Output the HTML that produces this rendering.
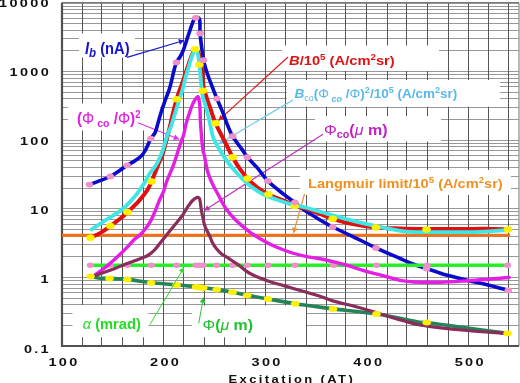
<!DOCTYPE html>
<html><head><meta charset="utf-8"><style>
html,body{margin:0;padding:0;background:#fff;overflow:hidden;width:520px;height:383px;}
svg{display:block;}
</style></head><body>
<svg width="520" height="383" viewBox="0 0 520 383">
<rect width="520" height="383" fill="#fff"/>
<g stroke="#989898" stroke-width="1"><line x1="62" y1="346.50" x2="519" y2="346.50"/><line x1="62" y1="325.50" x2="519" y2="325.50"/><line x1="62" y1="313.50" x2="519" y2="313.50"/><line x1="62" y1="304.50" x2="519" y2="304.50"/><line x1="62" y1="298.50" x2="519" y2="298.50"/><line x1="62" y1="292.50" x2="519" y2="292.50"/><line x1="62" y1="288.50" x2="519" y2="288.50"/><line x1="62" y1="284.50" x2="519" y2="284.50"/><line x1="62" y1="280.50" x2="519" y2="280.50"/><line x1="62" y1="277.50" x2="519" y2="277.50"/><line x1="62" y1="256.50" x2="519" y2="256.50"/><line x1="62" y1="244.50" x2="519" y2="244.50"/><line x1="62" y1="236.50" x2="519" y2="236.50"/><line x1="62" y1="229.50" x2="519" y2="229.50"/><line x1="62" y1="224.50" x2="519" y2="224.50"/><line x1="62" y1="219.50" x2="519" y2="219.50"/><line x1="62" y1="215.50" x2="519" y2="215.50"/><line x1="62" y1="211.50" x2="519" y2="211.50"/><line x1="62" y1="208.50" x2="519" y2="208.50"/><line x1="62" y1="188.50" x2="519" y2="188.50"/><line x1="62" y1="176.50" x2="519" y2="176.50"/><line x1="62" y1="167.50" x2="519" y2="167.50"/><line x1="62" y1="160.50" x2="519" y2="160.50"/><line x1="62" y1="155.50" x2="519" y2="155.50"/><line x1="62" y1="150.50" x2="519" y2="150.50"/><line x1="62" y1="146.50" x2="519" y2="146.50"/><line x1="62" y1="143.50" x2="519" y2="143.50"/><line x1="62" y1="140.50" x2="519" y2="140.50"/><line x1="62" y1="119.50" x2="519" y2="119.50"/><line x1="62" y1="107.50" x2="519" y2="107.50"/><line x1="62" y1="98.50" x2="519" y2="98.50"/><line x1="62" y1="92.50" x2="519" y2="92.50"/><line x1="62" y1="86.50" x2="519" y2="86.50"/><line x1="62" y1="82.50" x2="519" y2="82.50"/><line x1="62" y1="78.50" x2="519" y2="78.50"/><line x1="62" y1="74.50" x2="519" y2="74.50"/><line x1="62" y1="71.50" x2="519" y2="71.50"/><line x1="62" y1="50.50" x2="519" y2="50.50"/><line x1="62" y1="38.50" x2="519" y2="38.50"/><line x1="62" y1="30.50" x2="519" y2="30.50"/><line x1="62" y1="23.50" x2="519" y2="23.50"/><line x1="62" y1="18.50" x2="519" y2="18.50"/><line x1="62" y1="13.50" x2="519" y2="13.50"/><line x1="62" y1="9.50" x2="519" y2="9.50"/><line x1="62" y1="6.50" x2="519" y2="6.50"/><line x1="62" y1="2.50" x2="519" y2="2.50"/></g>
<g stroke="#555555" stroke-width="1"><line x1="82.50" y1="3" x2="82.50" y2="346"/><line x1="101.50" y1="3" x2="101.50" y2="346"/><line x1="122.50" y1="3" x2="122.50" y2="346"/><line x1="143.50" y1="3" x2="143.50" y2="346"/><line x1="163.50" y1="3" x2="163.50" y2="346"/><line x1="183.50" y1="3" x2="183.50" y2="346"/><line x1="204.50" y1="3" x2="204.50" y2="346"/><line x1="224.50" y1="3" x2="224.50" y2="346"/><line x1="245.50" y1="3" x2="245.50" y2="346"/><line x1="265.50" y1="3" x2="265.50" y2="346"/><line x1="285.50" y1="3" x2="285.50" y2="346"/><line x1="306.50" y1="3" x2="306.50" y2="346"/><line x1="326.50" y1="3" x2="326.50" y2="346"/><line x1="345.50" y1="3" x2="345.50" y2="346"/><line x1="366.50" y1="3" x2="366.50" y2="346"/><line x1="387.50" y1="3" x2="387.50" y2="346"/><line x1="406.50" y1="3" x2="406.50" y2="346"/><line x1="427.50" y1="3" x2="427.50" y2="346"/><line x1="448.50" y1="3" x2="448.50" y2="346"/><line x1="468.50" y1="3" x2="468.50" y2="346"/><line x1="488.50" y1="3" x2="488.50" y2="346"/><line x1="508.50" y1="3" x2="508.50" y2="346"/></g>
<line x1="519" y1="3" x2="519" y2="346" stroke="#8c8c8c" stroke-width="1.2"/>
<line x1="62" y1="2.5" x2="62" y2="347" stroke="#505050" stroke-width="2.2"/>
<line x1="61" y1="346" x2="519" y2="346" stroke="#505050" stroke-width="2"/>
<line x1="62" y1="3" x2="519" y2="3" stroke="#707070" stroke-width="1.4"/>
<rect x="79" y="33.5" width="56" height="24.0" fill="#fff"/>
<rect x="282" y="45.5" width="157" height="25.5" fill="#fff"/>
<rect x="287" y="80" width="213" height="26.799999999999997" fill="#fff"/>
<rect x="68" y="103.5" width="92" height="27.0" fill="#fff"/>
<rect x="315" y="116" width="126" height="25.5" fill="#fff"/>
<rect x="300" y="170" width="211" height="25" fill="#fff"/>
<rect x="72.5" y="305" width="76.0" height="32.30000000000001" fill="#fff"/>
<rect x="192" y="305.5" width="114" height="31.80000000000001" fill="#fff"/>
<line x1="62" y1="235.3" x2="510" y2="235.3" stroke="#f27018" stroke-width="3"/>
<line x1="127" y1="57.3" x2="184" y2="40.5" stroke="#1a1ad0" stroke-width="1.2"/><polygon points="184,40.5 179.9,44.8 178.2,39.1" fill="#1a1ad0"/>
<line x1="288" y1="57" x2="218.5" y2="120.5" stroke="#e02020" stroke-width="1.2"/><polygon points="218.5,120.5 220.3,114.8 224.4,119.2" fill="#e02020"/>
<line x1="293" y1="100" x2="218.5" y2="144" stroke="#6cc8ee" stroke-width="1.2"/><polygon points="218.5,144 221.4,138.8 224.5,143.9" fill="#6cc8ee"/>
<line x1="138" y1="122.8" x2="179" y2="139.2" stroke="#e030e0" stroke-width="1.2"/><polygon points="179,139.2 173.1,140.1 175.3,134.5" fill="#e030e0"/>
<line x1="323" y1="134.2" x2="204.3" y2="210.5" stroke="#c030c0" stroke-width="1.2"/><polygon points="204.3,210.5 207.0,205.2 210.3,210.2" fill="#c030c0"/>
<line x1="304.5" y1="194" x2="293.5" y2="233" stroke="#f09030" stroke-width="1.2"/><polygon points="293.5,233 292.0,227.2 297.8,228.8" fill="#f09030"/>
<path d="M89.4,184.6 C91.3,183.9 97.4,181.8 100.9,180.4 C104.4,179.1 107.5,177.9 110.3,176.5 C113.1,175.1 115.0,173.5 117.8,171.7 C120.6,169.8 124.3,167.2 127.2,165.4 C130.1,163.6 132.7,162.3 135.0,160.7 C137.3,159.1 139.6,157.8 141.3,156.0 C143.1,154.2 143.9,152.9 145.5,150.0 C147.1,147.1 149.2,141.4 150.8,138.6 C152.4,135.8 153.8,135.4 155.0,132.9 C156.2,130.4 156.7,127.5 157.8,123.8 C158.9,120.1 160.2,115.0 161.5,111.0 C162.8,107.0 164.0,103.8 165.3,100.0 C166.7,96.2 168.2,92.8 169.6,88.2 C171.0,83.6 172.4,76.8 173.5,72.5 C174.6,68.2 175.3,65.0 176.4,62.4 C177.5,59.8 178.9,58.9 180.0,57.0 C181.1,55.1 182.0,53.4 183.1,50.8 C184.2,48.2 185.2,44.4 186.3,41.3 C187.4,38.2 188.2,35.4 189.4,32.0 C190.6,28.6 192.2,23.4 193.3,21.0 C194.4,18.6 194.6,18.1 195.7,17.8 C196.8,17.5 198.9,16.8 199.6,19.4 C200.3,22.0 199.7,28.5 200.1,33.5 C200.5,38.5 201.3,44.8 201.9,49.2 C202.5,53.7 202.6,56.0 203.5,60.2 C204.4,64.4 206.1,70.0 207.6,74.5 C209.1,79.0 210.8,83.0 212.3,87.0 C213.9,91.0 215.1,94.2 216.9,98.6 C218.7,103.0 221.4,108.9 223.2,113.5 C225.0,118.1 226.3,122.2 227.9,126.0 C229.5,129.8 230.2,132.3 232.6,136.2 C234.9,140.1 239.5,145.9 242.0,149.4 C244.5,152.9 244.8,154.1 247.4,157.2 C250.0,160.3 254.2,164.2 257.6,168.2 C261.0,172.2 263.4,176.6 267.8,181.0 C272.2,185.4 279.3,190.8 283.8,194.4 C288.3,198.0 292.0,200.1 294.8,202.3 C297.6,204.5 297.2,205.1 300.6,207.5 C304.0,209.9 309.6,213.6 315.0,216.8 C320.4,220.1 325.3,223.2 332.7,227.0 C340.1,230.8 352.0,236.1 359.2,239.6 C366.4,243.1 369.2,244.8 376.0,247.9 C382.8,251.1 393.8,255.8 400.0,258.5 C406.2,261.2 408.6,262.3 413.0,264.0 C417.4,265.7 422.6,267.3 426.5,268.6 C430.4,269.9 432.6,270.6 436.3,271.8 C440.0,273.0 443.2,274.2 448.5,275.6 C453.8,277.1 461.1,278.9 468.0,280.5 C474.9,282.1 483.3,283.8 490.0,285.4 C496.7,287.0 505.2,289.6 508.3,290.4" fill="none" stroke="#0a0acd" stroke-width="3.6" stroke-linejoin="round" stroke-linecap="round"/>
<line x1="90" y1="265.3" x2="508" y2="265.3" stroke="#28ee28" stroke-width="3.6"/>
<ellipse cx="90.3" cy="265.3" rx="3.5" ry="2.7" fill="#f090c8"/>
<ellipse cx="110.0" cy="265.3" rx="3.5" ry="2.7" fill="#f090c8"/>
<ellipse cx="127.3" cy="265.3" rx="3.5" ry="2.7" fill="#f090c8"/>
<ellipse cx="151.3" cy="265.3" rx="3.5" ry="2.7" fill="#f090c8"/>
<ellipse cx="176.6" cy="265.3" rx="3.5" ry="2.7" fill="#f090c8"/>
<ellipse cx="196.0" cy="265.3" rx="3.5" ry="2.7" fill="#f090c8"/>
<ellipse cx="199.6" cy="265.3" rx="3.5" ry="2.7" fill="#f090c8"/>
<ellipse cx="203.2" cy="265.3" rx="3.5" ry="2.7" fill="#f090c8"/>
<ellipse cx="216.6" cy="265.3" rx="3.5" ry="2.7" fill="#f090c8"/>
<ellipse cx="232.6" cy="265.3" rx="3.5" ry="2.7" fill="#f090c8"/>
<ellipse cx="247.3" cy="265.3" rx="3.5" ry="2.7" fill="#f090c8"/>
<ellipse cx="268.0" cy="265.3" rx="3.5" ry="2.7" fill="#f090c8"/>
<ellipse cx="295.0" cy="265.3" rx="3.5" ry="2.7" fill="#f090c8"/>
<ellipse cx="333.5" cy="265.3" rx="3.5" ry="2.7" fill="#f090c8"/>
<ellipse cx="376.5" cy="265.3" rx="3.5" ry="2.7" fill="#f090c8"/>
<ellipse cx="427.2" cy="265.3" rx="3.5" ry="2.7" fill="#f090c8"/>
<ellipse cx="507.6" cy="265.3" rx="3.5" ry="2.7" fill="#f090c8"/>
<path d="M90.5,276.4 C92.1,276.7 96.8,277.8 100.0,278.2 C103.2,278.6 105.0,278.3 109.5,278.5 C114.0,278.7 120.4,278.7 127.3,279.4 C134.2,280.1 142.9,281.9 151.1,282.8 C159.3,283.7 168.7,284.0 176.6,284.7 C184.5,285.4 191.8,286.4 198.5,287.2 C205.2,288.0 210.8,288.6 216.5,289.4 C222.2,290.2 227.4,291.2 232.5,292.2 C237.6,293.2 241.2,294.2 247.1,295.3 C253.0,296.4 260.0,297.6 268.0,299.0 C276.0,300.4 288.2,302.6 295.2,303.7 C302.2,304.8 303.7,304.9 310.0,305.8 C316.3,306.7 321.9,307.5 333.0,308.9 C344.1,310.3 362.0,311.8 376.5,314.0 C391.0,316.2 411.6,320.9 420.0,322.3 C428.4,323.7 418.9,321.6 426.7,322.5 C434.5,323.4 453.5,326.2 467.0,328.0 C480.5,329.8 500.8,332.5 507.6,333.4" fill="none" stroke="#248458" stroke-width="3.6" stroke-linejoin="round" stroke-linecap="round"/>
<path d="M90.4,237.8 C92.2,236.9 97.6,234.6 100.9,232.6 C104.2,230.6 107.2,228.3 110.3,226.0 C113.4,223.7 116.8,221.3 119.7,219.0 C122.6,216.7 124.5,215.1 127.6,212.2 C130.7,209.2 135.3,204.9 138.5,201.3 C141.7,197.8 144.6,194.2 146.8,190.9 C149.0,187.6 150.2,184.7 151.6,181.5 C153.0,178.3 154.2,174.9 155.4,172.0 C156.6,169.1 157.3,166.9 158.5,164.0 C159.7,161.1 161.0,159.1 162.4,154.8 C163.8,150.5 165.7,143.0 166.9,138.4 C168.1,133.8 168.9,130.9 169.8,127.0 C170.8,123.1 171.5,119.4 172.6,114.8 C173.7,110.2 175.2,103.9 176.6,99.2 C178.0,94.5 179.8,90.0 181.0,86.6 C182.2,83.2 182.5,82.2 183.7,78.8 C184.9,75.4 186.7,69.8 188.0,66.0 C189.3,62.2 190.3,58.8 191.5,56.0 C192.7,53.2 193.9,49.6 195.2,49.3 C196.4,49.0 198.0,51.5 199.0,54.0 C200.0,56.5 200.7,61.1 201.3,64.6 C201.9,68.1 202.2,71.1 202.6,75.0 C203.0,78.9 203.1,84.7 203.6,88.0 C204.1,91.3 204.6,91.3 205.8,95.0 C207.0,98.7 209.4,105.7 211.0,110.4 C212.6,115.1 213.6,118.8 215.5,123.2 C217.4,127.6 220.5,133.2 222.4,137.0 C224.3,140.8 225.3,142.6 227.0,146.0 C228.7,149.4 230.4,153.2 232.6,157.2 C234.8,161.1 237.9,166.1 240.4,169.7 C242.9,173.2 244.8,175.5 247.6,178.5 C250.4,181.5 253.9,184.9 257.4,187.5 C260.9,190.1 264.0,192.0 268.4,194.2 C272.8,196.4 279.4,198.8 283.8,200.7 C288.2,202.6 291.0,204.1 294.6,205.4 C298.2,206.7 301.5,207.1 305.7,208.5 C309.9,209.9 315.5,212.3 320.0,214.0 C324.5,215.7 327.7,217.2 332.7,218.8 C337.7,220.4 342.8,222.1 350.0,223.5 C357.2,224.9 367.6,226.6 375.9,227.4 C384.2,228.2 391.6,228.2 400.0,228.5 C408.4,228.8 416.5,228.9 426.5,229.0 C436.5,229.1 450.2,229.0 460.0,229.0 C469.8,229.0 477.0,228.7 485.0,228.8 C493.0,228.9 504.2,229.4 508.0,229.5" fill="none" stroke="#e01010" stroke-width="4" stroke-linejoin="round" stroke-linecap="round"/>
<path d="M91.5,229.5 C93.8,228.0 100.0,223.8 105.0,220.5 C110.0,217.2 116.9,213.6 121.8,209.7 C126.7,205.8 130.5,201.6 134.3,197.1 C138.1,192.6 142.1,186.5 144.7,182.5 C147.3,178.5 148.4,175.4 150.0,173.0 C151.6,170.6 152.7,169.8 154.0,168.0 C155.3,166.2 156.4,164.8 157.8,162.0 C159.2,159.2 160.9,155.4 162.4,151.2 C163.9,147.0 165.5,140.8 166.9,136.6 C168.3,132.4 169.8,129.7 171.0,126.3 C172.2,122.9 173.1,119.7 174.2,116.0 C175.3,112.3 176.8,107.6 177.8,104.4 C178.8,101.2 179.3,99.2 180.0,97.0 C180.7,94.8 181.2,94.3 182.1,91.3 C183.0,88.3 184.1,82.7 185.2,78.8 C186.2,74.9 187.3,71.3 188.4,67.8 C189.5,64.2 190.4,60.6 191.5,57.5 C192.6,54.4 194.2,49.9 195.2,49.3 C196.2,48.6 197.0,51.1 197.7,53.6 C198.4,56.1 199.0,61.2 199.4,64.6 C199.8,68.0 200.0,70.2 200.3,74.0 C200.7,77.8 201.1,83.6 201.5,87.5 C201.9,91.4 202.3,94.6 203.0,97.6 C203.7,100.6 204.5,101.8 205.6,105.7 C206.7,109.7 208.3,116.3 209.5,121.3 C210.7,126.3 211.5,131.8 212.6,135.5 C213.7,139.2 214.2,140.0 216.0,143.3 C217.8,146.7 220.4,151.4 223.2,155.6 C226.0,159.8 229.2,164.1 232.6,168.2 C236.0,172.3 240.4,176.9 243.5,180.0 C246.6,183.1 247.7,184.1 251.0,186.5 C254.3,188.9 258.8,192.2 263.5,194.5 C268.2,196.8 273.9,198.7 279.1,200.5 C284.3,202.3 290.4,204.2 294.8,205.4 C299.2,206.6 300.7,206.2 305.7,207.5 C310.7,208.8 315.7,210.5 324.6,213.0 C333.5,215.5 347.6,219.5 359.2,222.3 C370.8,225.1 385.4,228.0 393.9,229.6 C402.4,231.2 400.6,231.4 410.0,231.8 C419.4,232.2 438.3,232.2 450.0,232.2 C461.7,232.2 470.3,232.2 480.0,231.8 C489.7,231.4 503.3,230.3 508.0,230.0" fill="none" stroke="#3ee6e6" stroke-width="3.8" stroke-linejoin="round" stroke-linecap="round"/>
<path d="M95.3,274.9 C97.3,273.3 103.6,268.8 107.6,265.5 C111.6,262.2 115.8,258.3 119.3,255.0 C122.8,251.7 126.2,248.2 128.7,245.6 C131.2,243.0 132.7,241.0 134.5,239.3 C136.3,237.6 137.6,237.3 139.5,235.5 C141.4,233.7 144.1,230.5 145.9,228.2 C147.7,225.9 148.9,224.0 150.1,221.9 C151.3,219.8 152.2,217.9 153.2,215.7 C154.2,213.4 155.2,211.0 156.3,208.4 C157.4,205.8 158.3,202.8 159.5,200.0 C160.7,197.2 162.2,194.9 163.5,191.7 C164.8,188.4 165.4,184.7 167.0,180.5 C168.6,176.3 171.1,171.3 172.9,166.6 C174.7,161.9 176.2,156.8 177.6,152.5 C179.0,148.2 180.5,143.4 181.5,140.5 C182.5,137.6 182.8,137.9 183.6,135.0 C184.4,132.1 185.4,126.4 186.2,123.2 C187.0,120.0 187.7,118.3 188.5,115.9 C189.3,113.5 190.0,111.0 190.9,108.6 C191.8,106.2 192.9,103.2 194.0,101.3 C195.1,99.4 196.4,97.7 197.2,97.1 C197.9,96.5 198.1,96.4 198.5,97.8 C198.9,99.2 199.5,101.8 199.8,105.7 C200.1,109.6 200.2,116.6 200.4,121.3 C200.7,126.0 200.9,129.1 201.3,133.9 C201.7,138.7 202.4,146.4 202.9,150.0 C203.4,153.6 203.6,152.0 204.4,155.6 C205.2,159.2 206.2,166.6 207.5,171.3 C208.8,176.0 210.7,180.1 212.5,184.0 C214.3,187.9 216.0,190.6 218.1,194.5 C220.2,198.4 222.1,203.0 225.0,207.2 C227.9,211.4 231.4,215.7 235.4,219.8 C239.4,223.9 244.6,228.2 249.2,231.6 C253.8,235.0 258.5,237.8 263.1,240.4 C267.7,243.0 272.3,245.3 276.9,247.3 C281.5,249.3 286.2,251.0 290.8,252.5 C295.4,254.0 300.0,255.1 304.6,256.1 C309.2,257.1 314.3,257.7 318.5,258.5 C322.7,259.3 325.4,259.9 330.0,261.0 C334.6,262.1 340.2,263.4 346.0,265.0 C351.8,266.6 357.9,268.9 364.6,270.8 C371.3,272.7 380.1,274.9 386.0,276.5 C391.9,278.1 395.4,279.4 400.0,280.3 C404.6,281.2 407.1,281.7 413.8,282.0 C420.5,282.3 431.0,282.4 440.0,282.2 C449.0,282.0 459.5,281.2 467.7,280.7 C475.9,280.2 482.3,279.7 489.2,279.2 C496.1,278.7 505.9,277.8 509.2,277.5" fill="none" stroke="#e41ee4" stroke-width="3.4" stroke-linejoin="round" stroke-linecap="round"/>
<path d="M95.3,275.5 C98.3,274.4 108.5,270.9 113.5,269.0 C118.5,267.1 120.8,266.0 125.2,264.3 C129.6,262.6 136.2,260.2 140.0,258.7 C143.8,257.2 145.4,256.9 147.8,255.5 C150.2,254.1 152.4,252.2 154.4,250.2 C156.4,248.2 157.9,245.9 159.6,243.7 C161.3,241.5 163.1,239.4 164.8,237.2 C166.5,235.0 168.0,233.1 170.0,230.7 C172.0,228.3 174.6,225.2 176.6,222.8 C178.6,220.4 180.3,218.4 181.8,216.3 C183.3,214.2 184.4,212.2 185.5,210.5 C186.6,208.8 187.2,207.5 188.4,205.8 C189.6,204.1 191.2,201.9 192.6,200.5 C194.0,199.1 195.7,197.8 196.8,197.4 C197.9,197.1 198.8,197.4 199.4,198.4 C200.0,199.4 200.2,201.6 200.5,203.7 C200.8,205.8 201.1,208.6 201.5,211.0 C201.9,213.4 202.6,216.0 203.1,218.3 C203.6,220.6 203.8,222.8 204.5,225.0 C205.2,227.2 206.4,229.4 207.3,231.3 C208.2,233.2 209.0,234.6 209.9,236.5 C210.8,238.4 211.4,240.7 212.5,242.8 C213.6,244.9 215.1,247.1 216.7,249.0 C218.3,250.9 220.2,252.8 221.9,254.2 C223.7,255.6 225.3,256.2 227.2,257.4 C229.1,258.6 231.5,260.3 233.4,261.6 C235.3,262.9 236.0,263.1 238.6,265.0 C241.2,266.9 244.5,270.4 249.2,273.0 C253.8,275.6 260.7,278.3 266.5,280.4 C272.3,282.5 278.0,283.9 283.8,285.6 C289.6,287.3 295.3,289.1 301.1,290.8 C306.9,292.5 313.1,294.1 318.5,295.8 C323.9,297.5 327.1,299.2 333.5,301.1 C339.9,303.0 349.2,304.9 357.0,307.0 C364.8,309.1 372.7,311.7 380.5,314.0 C388.3,316.3 397.4,319.2 404.0,321.0 C410.6,322.8 414.2,323.9 420.0,325.0 C425.8,326.1 430.8,326.7 438.7,327.6 C446.6,328.5 456.4,329.5 467.4,330.5 C478.4,331.5 498.6,332.9 504.8,333.4" fill="none" stroke="#8a2c5c" stroke-width="3.2" stroke-linejoin="round" stroke-linecap="round"/>
<ellipse cx="90.5" cy="276.4" rx="4.3" ry="2.9" fill="#fff000"/>
<ellipse cx="109.5" cy="278.5" rx="4.3" ry="2.9" fill="#fff000"/>
<ellipse cx="127.3" cy="279.4" rx="4.3" ry="2.9" fill="#fff000"/>
<ellipse cx="151.1" cy="282.8" rx="4.3" ry="2.9" fill="#fff000"/>
<ellipse cx="176.6" cy="284.9" rx="4.3" ry="2.9" fill="#fff000"/>
<ellipse cx="196.0" cy="287.0" rx="4.3" ry="2.9" fill="#fff000"/>
<ellipse cx="199.6" cy="287.5" rx="4.3" ry="2.9" fill="#fff000"/>
<ellipse cx="203.2" cy="288.0" rx="4.3" ry="2.9" fill="#fff000"/>
<ellipse cx="216.7" cy="289.6" rx="4.3" ry="2.9" fill="#fff000"/>
<ellipse cx="232.5" cy="292.2" rx="4.3" ry="2.9" fill="#fff000"/>
<ellipse cx="247.1" cy="295.3" rx="4.3" ry="2.9" fill="#fff000"/>
<ellipse cx="268.0" cy="299.0" rx="4.3" ry="2.9" fill="#fff000"/>
<ellipse cx="295.2" cy="303.7" rx="4.3" ry="2.9" fill="#fff000"/>
<ellipse cx="333.0" cy="308.9" rx="4.3" ry="2.9" fill="#fff000"/>
<ellipse cx="376.5" cy="314.0" rx="4.3" ry="2.9" fill="#fff000"/>
<ellipse cx="426.7" cy="322.5" rx="4.3" ry="2.9" fill="#fff000"/>
<ellipse cx="507.6" cy="333.4" rx="4.3" ry="2.9" fill="#fff000"/>
<ellipse cx="90.4" cy="237.8" rx="4.3" ry="3.2" fill="#fff000"/>
<ellipse cx="110.3" cy="226.0" rx="4.3" ry="3.2" fill="#fff000"/>
<ellipse cx="127.6" cy="212.2" rx="4.3" ry="3.2" fill="#fff000"/>
<ellipse cx="151.6" cy="181.5" rx="4.3" ry="3.2" fill="#fff000"/>
<ellipse cx="176.6" cy="99.2" rx="4.3" ry="3.2" fill="#fff000"/>
<ellipse cx="195.2" cy="49.3" rx="4.3" ry="3.2" fill="#fff000"/>
<ellipse cx="199.4" cy="64.6" rx="4.3" ry="3.2" fill="#fff000"/>
<ellipse cx="202.8" cy="90.8" rx="4.3" ry="3.2" fill="#fff000"/>
<ellipse cx="215.5" cy="123.2" rx="4.3" ry="3.2" fill="#fff000"/>
<ellipse cx="232.6" cy="157.2" rx="4.3" ry="3.2" fill="#fff000"/>
<ellipse cx="247.6" cy="178.5" rx="4.3" ry="3.2" fill="#fff000"/>
<ellipse cx="268.4" cy="194.2" rx="4.3" ry="3.2" fill="#fff000"/>
<ellipse cx="294.6" cy="206.0" rx="4.3" ry="3.2" fill="#fff000"/>
<ellipse cx="332.7" cy="218.8" rx="4.3" ry="3.2" fill="#fff000"/>
<ellipse cx="375.9" cy="227.4" rx="4.3" ry="3.2" fill="#fff000"/>
<ellipse cx="426.5" cy="229.5" rx="4.3" ry="3.2" fill="#fff000"/>
<ellipse cx="508.0" cy="229.5" rx="4.3" ry="3.2" fill="#fff000"/>
<ellipse cx="89.4" cy="184.6" rx="3.8" ry="2.9" fill="#f090c8"/>
<ellipse cx="110.3" cy="176.5" rx="3.8" ry="2.9" fill="#f090c8"/>
<ellipse cx="127.2" cy="165.4" rx="3.8" ry="2.9" fill="#f090c8"/>
<ellipse cx="150.8" cy="138.6" rx="3.8" ry="2.9" fill="#f090c8"/>
<ellipse cx="176.4" cy="62.4" rx="3.8" ry="2.9" fill="#f090c8"/>
<ellipse cx="195.7" cy="17.8" rx="3.8" ry="2.9" fill="#f090c8"/>
<ellipse cx="200.1" cy="33.5" rx="3.8" ry="2.9" fill="#f090c8"/>
<ellipse cx="203.5" cy="60.2" rx="3.8" ry="2.9" fill="#f090c8"/>
<ellipse cx="216.9" cy="98.6" rx="3.8" ry="2.9" fill="#f090c8"/>
<ellipse cx="232.6" cy="136.2" rx="3.8" ry="2.9" fill="#f090c8"/>
<ellipse cx="247.4" cy="157.2" rx="3.8" ry="2.9" fill="#f090c8"/>
<ellipse cx="267.8" cy="181.0" rx="3.8" ry="2.9" fill="#f090c8"/>
<ellipse cx="294.8" cy="202.3" rx="3.8" ry="2.9" fill="#f090c8"/>
<ellipse cx="332.7" cy="227.0" rx="3.8" ry="2.9" fill="#f090c8"/>
<ellipse cx="376.0" cy="247.9" rx="3.8" ry="2.9" fill="#f090c8"/>
<ellipse cx="426.5" cy="268.4" rx="3.8" ry="2.9" fill="#f090c8"/>
<ellipse cx="508.3" cy="290.4" rx="3.8" ry="2.9" fill="#f090c8"/>
<line x1="150" y1="324.4" x2="184" y2="267.5" stroke="#30d830" stroke-width="1.0"/><polygon points="184,267.5 183.9,273.5 178.8,270.4" fill="#30d830"/>
<line x1="198.7" y1="323.4" x2="203.5" y2="297.5" stroke="#30c040" stroke-width="1.0"/><polygon points="203.5,297.5 205.5,303.2 199.6,302.1" fill="#30c040"/>
<text transform="translate(85,53.8) scale(0.92,1)" style="font-family:'Liberation Sans',Arial,sans-serif;font-weight:bold;font-size:16px;fill:#1414c8;"><tspan font-style="italic">I</tspan><tspan font-style="italic" font-size="12.5" dy="3">b</tspan><tspan dy="-3"> (nA)</tspan></text>
<text transform="translate(289,64.6) scale(1.09,1)" style="font-family:'Liberation Sans',Arial,sans-serif;font-weight:bold;font-size:13.5px;fill:#dc1414;"><tspan font-style="italic">B</tspan>/10<tspan font-size="9" dy="-5">5</tspan><tspan dy="5"> (A/cm</tspan><tspan font-size="9" dy="-5">2</tspan><tspan dy="5">sr)</tspan></text>
<text transform="translate(294.5,98.4) scale(1.0,1)" style="font-family:'Liberation Sans',Arial,sans-serif;font-weight:bold;font-size:13.5px;fill:#5ab8e8;"><tspan font-style="italic">B</tspan><tspan font-size="9" font-weight="normal" dy="3">co</tspan><tspan dy="-3">(</tspan><tspan font-weight="normal">Φ</tspan><tspan font-size="9" font-style="italic" dy="4"> co</tspan><tspan dy="-4"> /</tspan><tspan font-weight="normal">Φ</tspan>)<tspan font-size="9" dy="-5">2</tspan><tspan dy="5">/10</tspan><tspan font-size="9" dy="-5">5</tspan><tspan dy="5"> (A/cm</tspan><tspan font-size="9" dy="-5">2</tspan><tspan dy="5">sr)</tspan></text>
<text transform="translate(77,124.2) scale(0.955,1)" style="font-family:'Liberation Sans',Arial,sans-serif;font-weight:bold;font-size:16px;fill:#e020e0;">(<tspan font-weight="normal">Φ</tspan><tspan font-size="11" dy="3"> co</tspan><tspan dy="-3"> /</tspan><tspan font-weight="normal">Φ</tspan>)<tspan font-size="10" dy="-6">2</tspan></text>
<text transform="translate(324,135.4) scale(1.07,1)" style="font-family:'Liberation Sans',Arial,sans-serif;font-weight:bold;font-size:15px;fill:#c020c0;"><tspan font-weight="normal">Φ</tspan><tspan font-size="10" dy="3">co</tspan><tspan dy="-3">(</tspan><tspan font-style="italic" font-weight="normal">μ</tspan> m)</text>
<text transform="translate(308,188) scale(1.08,1)" style="font-family:'Liberation Sans',Arial,sans-serif;font-weight:bold;font-size:13.5px;fill:#f0901e;">Langmuir limit/10<tspan font-size="9" dy="-5">5</tspan><tspan dy="5"> (A/cm</tspan><tspan font-size="9" dy="-5">2</tspan><tspan dy="5">sr)</tspan></text>
<text transform="translate(82.7,329.2) scale(0.98,1)" style="font-family:'Liberation Sans',Arial,sans-serif;font-weight:bold;font-size:15px;fill:#22dd22;"><tspan font-style="italic" font-weight="normal">α</tspan> (mrad)</text>
<text transform="translate(202.5,330.3) scale(1.06,1)" style="font-family:'Liberation Sans',Arial,sans-serif;font-weight:bold;font-size:15px;fill:#22c030;"><tspan font-weight="normal">Φ</tspan>(<tspan font-style="italic" font-weight="normal">μ</tspan> m)</text>
<text transform="translate(51.0,6.9) scale(1.45,1)" text-anchor="end" style="font-family:'Liberation Sans',Arial,sans-serif;font-weight:bold;font-size:10px;fill:#111;letter-spacing:1.6px;">10000</text>
<text transform="translate(51.0,76.0) scale(1.45,1)" text-anchor="end" style="font-family:'Liberation Sans',Arial,sans-serif;font-weight:bold;font-size:10px;fill:#111;letter-spacing:1.6px;">1000</text>
<text transform="translate(51.0,145.1) scale(1.45,1)" text-anchor="end" style="font-family:'Liberation Sans',Arial,sans-serif;font-weight:bold;font-size:10px;fill:#111;letter-spacing:1.6px;">100</text>
<text transform="translate(51.0,214.3) scale(1.45,1)" text-anchor="end" style="font-family:'Liberation Sans',Arial,sans-serif;font-weight:bold;font-size:10px;fill:#111;letter-spacing:1.6px;">10</text>
<text transform="translate(51.0,283.4) scale(1.45,1)" text-anchor="end" style="font-family:'Liberation Sans',Arial,sans-serif;font-weight:bold;font-size:10px;fill:#111;letter-spacing:1.6px;">1</text>
<text transform="translate(51.0,352.5) scale(1.45,1)" text-anchor="end" style="font-family:'Liberation Sans',Arial,sans-serif;font-weight:bold;font-size:10px;fill:#111;letter-spacing:1.6px;">0.1</text>
<text transform="translate(64.0,366.0) scale(1.45,1)" text-anchor="middle" style="font-family:'Liberation Sans',Arial,sans-serif;font-weight:bold;font-size:10px;fill:#111;letter-spacing:1.6px;">100</text>
<text transform="translate(165.6,366.0) scale(1.45,1)" text-anchor="middle" style="font-family:'Liberation Sans',Arial,sans-serif;font-weight:bold;font-size:10px;fill:#111;letter-spacing:1.6px;">200</text>
<text transform="translate(267.1,366.0) scale(1.45,1)" text-anchor="middle" style="font-family:'Liberation Sans',Arial,sans-serif;font-weight:bold;font-size:10px;fill:#111;letter-spacing:1.6px;">300</text>
<text transform="translate(368.7,366.0) scale(1.45,1)" text-anchor="middle" style="font-family:'Liberation Sans',Arial,sans-serif;font-weight:bold;font-size:10px;fill:#111;letter-spacing:1.6px;">400</text>
<text transform="translate(470.2,366.0) scale(1.45,1)" text-anchor="middle" style="font-family:'Liberation Sans',Arial,sans-serif;font-weight:bold;font-size:10px;fill:#111;letter-spacing:1.6px;">500</text>
<text transform="translate(228.5,382.6) scale(1.3,1)" text-anchor="start" style="font-family:'Liberation Sans',Arial,sans-serif;font-weight:bold;font-size:10px;fill:#111;letter-spacing:1.6px;letter-spacing:1.85px;">Excitation (AT)</text>
</svg>
</body></html>
